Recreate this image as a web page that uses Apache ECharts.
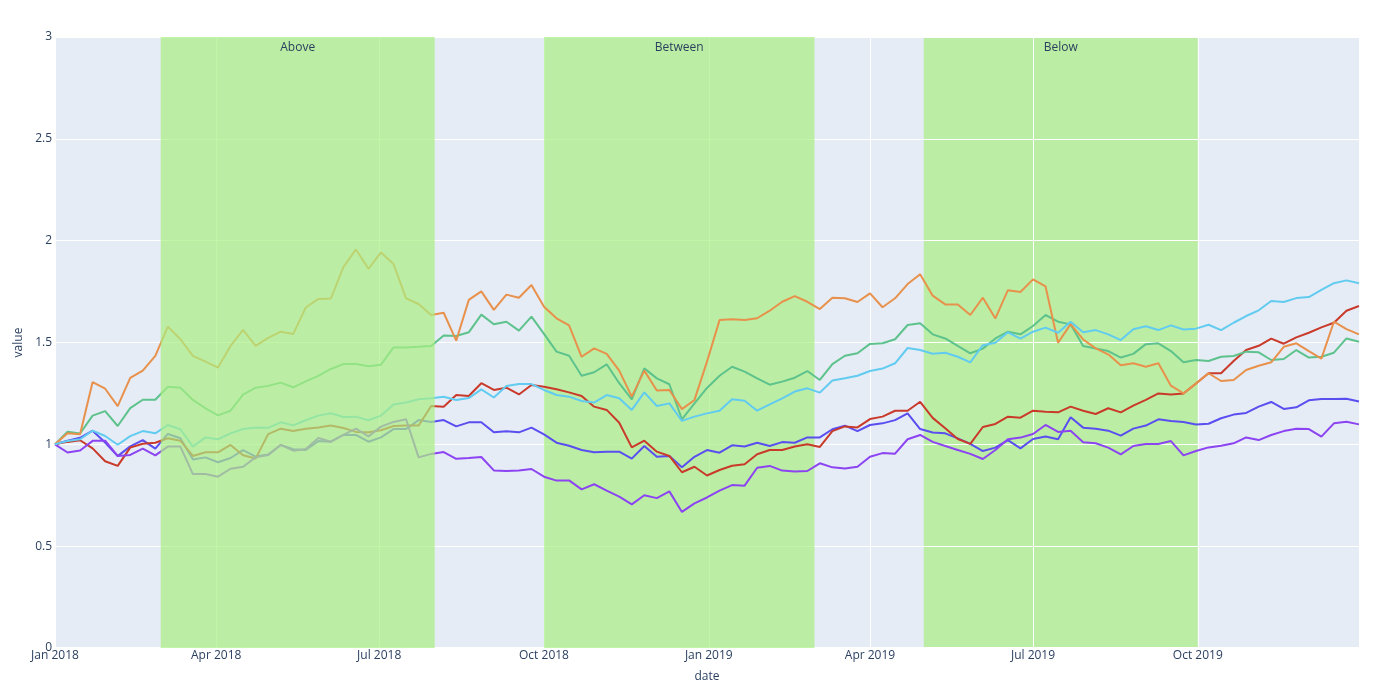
<!DOCTYPE html>
<html>
<head>
<meta charset="utf-8">
<script src="https://cdn.jsdelivr.net/npm/echarts@6/dist/echarts.min.js"></script>
<style>
html,body{margin:0;padding:0;background:#fff;}
#chart{width:1380px;height:688px;}
</style>
</head>
<body>
<div id="chart"></div>
<script>
const dates = [
'2018-01-01','2018-01-08','2018-01-15','2018-01-22','2018-01-29','2018-02-05','2018-02-12','2018-02-19','2018-02-26','2018-03-05',
'2018-03-12','2018-03-19','2018-03-26','2018-04-02','2018-04-09','2018-04-16','2018-04-23','2018-04-30','2018-05-07','2018-05-14',
'2018-05-21','2018-05-28','2018-06-04','2018-06-11','2018-06-18','2018-06-25','2018-07-02','2018-07-09','2018-07-16','2018-07-23',
'2018-07-30','2018-08-06','2018-08-13','2018-08-20','2018-08-27','2018-09-03','2018-09-10','2018-09-17','2018-09-24','2018-10-01',
'2018-10-08','2018-10-15','2018-10-22','2018-10-29','2018-11-05','2018-11-12','2018-11-19','2018-11-26','2018-12-03','2018-12-10',
'2018-12-17','2018-12-24','2018-12-31','2019-01-07','2019-01-14','2019-01-21','2019-01-28','2019-02-04','2019-02-11','2019-02-18',
'2019-02-25','2019-03-04','2019-03-11','2019-03-18','2019-03-25','2019-04-01','2019-04-08','2019-04-15','2019-04-22','2019-04-29',
'2019-05-06','2019-05-13','2019-05-20','2019-05-27','2019-06-03','2019-06-10','2019-06-17','2019-06-24','2019-07-01','2019-07-08',
'2019-07-15','2019-07-22','2019-07-29','2019-08-05','2019-08-12','2019-08-19','2019-08-26','2019-09-02','2019-09-09','2019-09-16',
'2019-09-23','2019-09-30','2019-10-07','2019-10-14','2019-10-21','2019-10-28','2019-11-04','2019-11-11','2019-11-18','2019-11-25',
'2019-12-02','2019-12-09','2019-12-16','2019-12-23','2019-12-30'
];

const GOOG = [
1.0,1.018,1.032,1.067,1.009,0.942,0.99,1.021,0.979,1.051,
1.03,0.926,0.936,0.912,0.933,0.972,0.94,0.95,0.997,0.976,
0.972,1.016,1.013,1.046,1.046,1.013,1.034,1.075,1.075,1.119,
1.11,1.119,1.088,1.108,1.108,1.059,1.064,1.059,1.082,1.049,
1.008,0.993,0.972,0.961,0.964,0.964,0.93,0.992,0.939,0.943,
0.887,0.939,0.972,0.959,0.995,0.989,1.008,0.992,1.011,1.008,
1.034,1.034,1.074,1.092,1.065,1.095,1.103,1.119,1.152,1.075,
1.058,1.054,1.029,1.002,0.967,0.984,1.021,0.98,1.026,1.038,
1.025,1.133,1.082,1.077,1.067,1.043,1.077,1.092,1.123,1.115,
1.11,1.097,1.101,1.128,1.146,1.154,1.185,1.208,1.174,1.182,
1.216,1.223,1.223,1.224,1.21
];
const AAPL = [
1.0,1.012,1.02,0.98,0.917,0.894,0.984,1.003,1.008,1.03,
1.018,0.943,0.961,0.961,0.997,0.946,0.93,1.05,1.077,1.065,
1.077,1.083,1.092,1.08,1.061,1.059,1.069,1.09,1.092,1.092,
1.188,1.185,1.242,1.237,1.3,1.267,1.278,1.245,1.291,1.283,
1.27,1.255,1.237,1.185,1.169,1.106,0.985,1.018,0.964,0.943,
0.863,0.89,0.847,0.874,0.895,0.902,0.951,0.972,0.972,0.989,
1.0,0.987,1.065,1.088,1.083,1.124,1.136,1.165,1.165,1.209,
1.13,1.079,1.026,1.002,1.085,1.1,1.136,1.131,1.165,1.16,
1.157,1.185,1.165,1.149,1.177,1.157,1.19,1.218,1.25,1.245,
1.25,1.299,1.349,1.349,1.409,1.463,1.484,1.519,1.494,1.525,
1.548,1.574,1.597,1.656,1.679
];
const AMZN = [
1.0,1.062,1.053,1.141,1.163,1.09,1.178,1.219,1.219,1.283,
1.278,1.218,1.177,1.142,1.165,1.244,1.278,1.287,1.303,1.28,
1.309,1.336,1.37,1.394,1.394,1.383,1.391,1.476,1.476,1.479,
1.483,1.534,1.532,1.55,1.637,1.59,1.602,1.558,1.627,1.542,
1.455,1.435,1.337,1.354,1.393,1.3,1.221,1.373,1.324,1.295,
1.123,1.201,1.277,1.337,1.381,1.357,1.324,1.293,1.308,1.327,
1.36,1.316,1.394,1.435,1.447,1.493,1.496,1.516,1.586,1.594,
1.54,1.52,1.483,1.447,1.47,1.52,1.553,1.54,1.581,1.635,
1.602,1.589,1.483,1.471,1.458,1.426,1.444,1.492,1.496,1.458,
1.403,1.414,1.409,1.43,1.434,1.455,1.452,1.414,1.419,1.463,
1.426,1.43,1.45,1.52,1.504
];
const FB = [
1.0,0.96,0.97,1.017,1.018,0.943,0.948,0.979,0.946,0.989,
0.989,0.854,0.854,0.841,0.88,0.89,0.936,0.947,0.997,0.969,
0.977,1.031,1.013,1.046,1.077,1.039,1.087,1.11,1.123,0.936,
0.953,0.962,0.929,0.933,0.938,0.872,0.869,0.871,0.879,0.841,
0.822,0.823,0.779,0.804,0.773,0.743,0.705,0.75,0.736,0.769,
0.668,0.71,0.739,0.773,0.8,0.797,0.885,0.894,0.871,0.867,
0.869,0.907,0.887,0.881,0.89,0.939,0.957,0.954,1.025,1.046,
1.012,0.992,0.972,0.953,0.928,0.972,1.025,1.033,1.051,1.095,
1.061,1.067,1.01,1.005,0.984,0.951,0.992,1.002,1.002,1.016,
0.946,0.967,0.985,0.993,1.005,1.034,1.021,1.046,1.065,1.077,
1.075,1.038,1.103,1.111,1.098
];
const NFLX = [
1.0,1.054,1.05,1.306,1.273,1.188,1.326,1.362,1.434,1.578,
1.516,1.434,1.406,1.377,1.483,1.562,1.483,1.523,1.553,1.542,
1.672,1.714,1.716,1.87,1.957,1.862,1.942,1.885,1.717,1.689,
1.635,1.646,1.509,1.709,1.751,1.66,1.735,1.72,1.782,1.676,
1.619,1.584,1.43,1.471,1.444,1.362,1.234,1.362,1.264,1.267,
1.173,1.218,1.406,1.61,1.614,1.61,1.619,1.656,1.7,1.728,
1.7,1.664,1.72,1.717,1.699,1.741,1.673,1.717,1.787,1.835,
1.73,1.687,1.687,1.635,1.72,1.618,1.757,1.748,1.81,1.775,
1.499,1.59,1.515,1.471,1.442,1.388,1.398,1.381,1.398,1.288,
1.25,1.299,1.349,1.311,1.316,1.365,1.386,1.403,1.479,1.496,
1.458,1.421,1.602,1.566,1.54
];
const MSFT = [
1.0,1.016,1.025,1.067,1.041,0.998,1.04,1.065,1.054,1.095,
1.074,0.989,1.034,1.025,1.054,1.075,1.083,1.081,1.108,1.093,
1.118,1.141,1.153,1.134,1.136,1.118,1.141,1.196,1.205,1.221,
1.226,1.234,1.218,1.227,1.27,1.23,1.286,1.296,1.296,1.267,
1.242,1.234,1.213,1.205,1.242,1.226,1.169,1.255,1.188,1.201,
1.115,1.136,1.152,1.165,1.221,1.214,1.165,1.196,1.226,1.259,
1.275,1.254,1.313,1.324,1.337,1.36,1.372,1.398,1.473,1.463,
1.445,1.45,1.43,1.402,1.487,1.499,1.55,1.519,1.553,1.573,
1.548,1.602,1.55,1.561,1.54,1.512,1.565,1.58,1.561,1.584,
1.564,1.568,1.587,1.561,1.597,1.63,1.658,1.704,1.699,1.718,
1.723,1.758,1.791,1.805,1.791
];

const seriesNames = ['GOOG','AAPL','AMZN','FB','NFLX','MSFT'];
const seriesValues = [GOOG, AAPL, AMZN, FB, NFLX, MSFT];
const seriesColors = ['#5a4ef0','#c93a2a','#5ec28c','#8c44f2','#e8914c','#62cbf0'];

const xTickDates = ['2018-01-01','2018-04-01','2018-07-01','2018-10-01','2019-01-01','2019-04-01','2019-07-01','2019-10-01'];
const xTickLabels = ['Jan 2018','Apr 2018','Jul 2018','Oct 2018','Jan 2019','Apr 2019','Jul 2019','Oct 2019'];

const rects = [
  {name: 'Above',   from: '2018-03-01', to: '2018-08-01', z: 5},
  {name: 'Between', from: '2018-10-01', to: '2019-03-01', z: 3},
  {name: 'Below',   from: '2019-05-01', to: '2019-10-01', z: 1}
];

const FONT = '"Open Sans", verdana, arial, sans-serif';
const TXT = '#2a3f5f';
const ts = d => Date.UTC(+d.slice(0, 4), +d.slice(5, 7) - 1, +d.slice(8, 10));
const tickTs = xTickDates.map(ts);

const series = seriesNames.map((n, k) => ({
  name: n,
  type: 'line',
  z: 4,
  showSymbol: false,
  symbol: 'none',
  data: dates.map((d, i) => [ts(d), seriesValues[k][i]]),
  lineStyle: {color: seriesColors[k], width: 2},
  itemStyle: {color: seriesColors[k]},
  animation: false
}));

rects.forEach(r => {
  series.push({
    type: 'line',
    name: 'rect-' + r.name,
    z: r.z,
    data: [],
    silent: true,
    animation: false,
    markArea: {
      z: r.z,
      silent: true,
      animation: false,
      itemStyle: {color: 'rgb(169,239,130)', opacity: 0.7, borderWidth: 0},
      label: {show: true, position: 'insideTop', distance: 5, color: TXT, fontSize: 12, fontFamily: FONT},
      data: [[{name: r.name, xAxis: ts(r.from)}, {xAxis: ts(r.to)}]]
    }
  });
});

const chart = echarts.init(document.getElementById('chart'));
chart.setOption({
  animation: false,
  backgroundColor: '#ffffff',
  textStyle: {fontFamily: FONT},
  grid: {left: 55, right: 21, top: 37, bottom: 40, show: true, backgroundColor: '#e5ecf6', borderWidth: 0, z: 0,
         containLabel: false, outerBoundsMode: 'none'},
  xAxis: {
    type: 'value',
    z: 2,
    min: ts(dates[0]),
    max: ts(dates[dates.length - 1]),
    name: 'date',
    nameLocation: 'middle',
    nameGap: 23,
    nameTextStyle: {color: TXT, fontSize: 12, fontFamily: FONT},
    axisLine: {show: true, lineStyle: {color: '#ffffff', width: 2}},
    axisTick: {show: false, customValues: tickTs},
    axisLabel: {
      customValues: tickTs,
      color: TXT, fontSize: 12, fontFamily: FONT, margin: 2,
      formatter: function (v) {
        const idx = tickTs.indexOf(v);
        return idx >= 0 ? xTickLabels[idx] : '';
      }
    },
    splitLine: {show: true, lineStyle: {color: '#ffffff', width: 1}}
  },
  yAxis: {
    type: 'value',
    z: 2,
    min: 0, max: 3, interval: 0.5,
    name: 'value',
    nameLocation: 'middle',
    nameGap: 30,
    nameTextStyle: {color: TXT, fontSize: 12, fontFamily: FONT},
    axisLine: {show: false},
    axisTick: {show: false},
    axisLabel: {color: TXT, fontSize: 12, fontFamily: FONT, margin: 3},
    splitLine: {show: true, lineStyle: {color: '#ffffff', width: 1}}
  },
  series: series
});
</script>
</body>
</html>
